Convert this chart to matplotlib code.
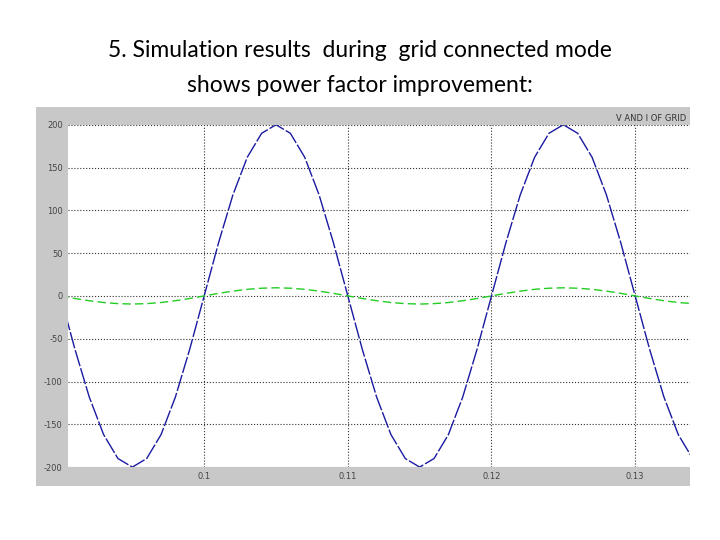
import matplotlib.pyplot as plt
from matplotlib.patches import Rectangle

plt.rcParams['axes.unicode_minus'] = False

# sample times (s) and values
t = [0.090 + 0.001 * k for k in range(45)]
v_grid = [0, -62, -118, -162, -190, -200, -190, -162, -118, -62,
          0, 62, 118, 162, 190, 200, 190, 162, 118, 62,
          0, -62, -118, -162, -190, -200, -190, -162, -118, -62,
          0, 62, 118, 162, 190, 200, 190, 162, 118, 62,
          0, -62, -118, -162, -190]
i_grid = [0, -3, -5.6, -7.7, -9, -9.5, -9, -7.7, -5.6, -3,
          0, 3, 5.6, 7.7, 9, 9.5, 9, 7.7, 5.6, 3,
          0, -3, -5.6, -7.7, -9, -9.5, -9, -7.7, -5.6, -3,
          0, 3, 5.6, 7.7, 9, 9.5, 9, 7.7, 5.6, 3,
          0, -3, -5.6, -7.7, -9]
xticks = [0.10, 0.11, 0.12, 0.13]
xticklabels = ['0.1', '0.11', '0.12', '0.13']
yticks = [200, 150, 100, 50, 0, -50, -100, -150, -200]

fig = plt.figure(figsize=(7.2, 5.4), dpi=100)
fig.patches.append(Rectangle((0.05, 0.1), 0.908, 0.702, transform=fig.transFigure,
                             facecolor='#c8c8c8', edgecolor='none', zorder=-1))
fig.text(0.5, 0.895, '5. Simulation results  during  grid connected mode',
         ha='center', fontsize=16.5, family='Lato')
fig.text(0.5, 0.83, 'shows power factor improvement:', ha='center', fontsize=16.5, family='Lato')

ax = fig.add_axes([0.094, 0.135, 0.864, 0.634])
ax.set_zorder(2)
ax.plot(t, v_grid, color='#1a1aa0', lw=1, linestyle=(0, (12, 1.5)))
ax.plot(t, i_grid, color='#22cc22', lw=1, linestyle=(0, (6, 3)))
ax.set_xlim(0.0905, 0.1338)
ax.set_ylim(-200, 200)
ax.set_xticks(xticks)
ax.set_xticklabels(xticklabels)
ax.set_yticks(yticks)
ax.grid(True, color='#333333', linestyle=':', lw=0.8)
ax.tick_params(labelsize=6, colors='#444444', length=0)
for s in ax.spines.values():
    s.set_visible(False)
ax.text(0.995, 1.005, 'V AND I OF GRID', transform=ax.transAxes, ha='right', va='bottom',
        fontsize=6, color='#333333')

fig.savefig('out.png')
